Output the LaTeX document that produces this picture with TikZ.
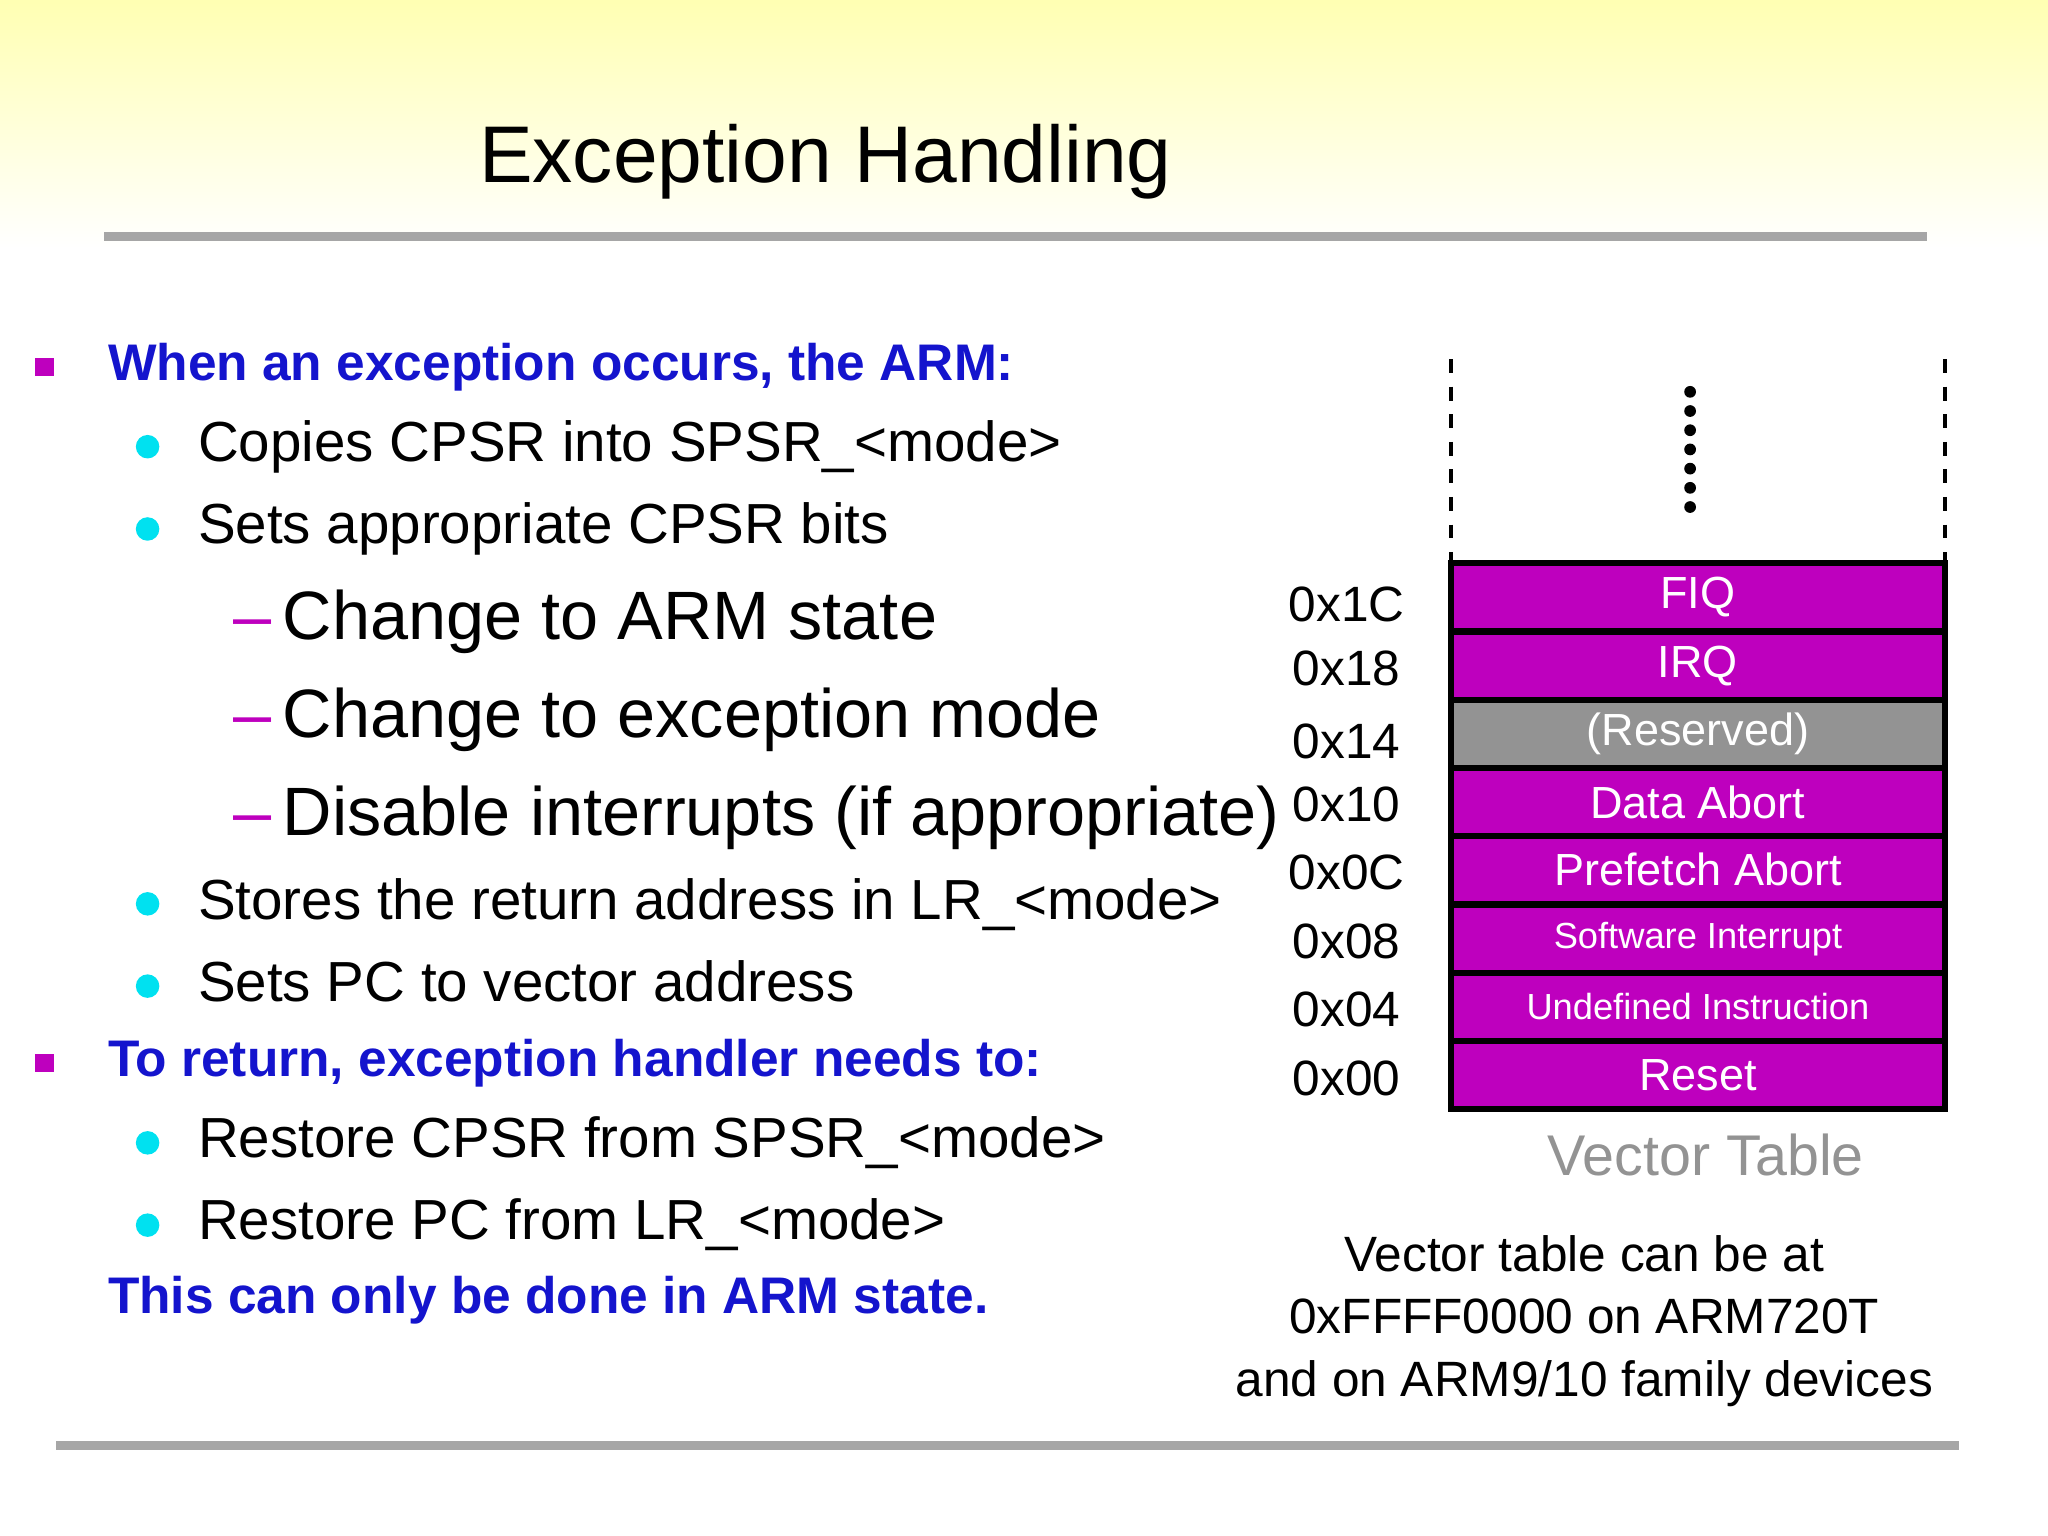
\documentclass[tikz,border=0pt]{standalone}
\usepackage{fontspec}
\setmainfont{Liberation Sans}
\definecolor{vmag}{RGB}{190,0,190}
\definecolor{bcyan}{RGB}{0,225,240}
\definecolor{hblue}{RGB}{20,20,205}
\begin{document}
\begin{tikzpicture}[x=0.01cm,y=-0.01cm,
  hd/.style={anchor=base west,font=\fontsize{11.2}{13}\selectfont\bfseries,text=hblue,inner sep=0},
  it/.style={anchor=base west,font=\fontsize{12.3}{14}\selectfont,inner sep=0},
  sub/.style={anchor=base west,font=\fontsize{14.9}{17}\selectfont,inner sep=0},
  hx/.style={anchor=base,font=\fontsize{10.8}{13}\selectfont,inner sep=0},
  vrow/.style={draw=black,line width=1.2pt,fill=vmag,text=white,minimum width=378*0.01cm,minimum height=52*0.01cm,inner sep=0,font=\fontsize{9.8}{11}\selectfont},
  sq/.style={fill=vmag,minimum size=14*0.01cm,inner sep=0},
  dot/.style={circle,fill=bcyan,minimum size=18*0.01cm,inner sep=0},
  rule/.style={line width=2pt,draw=gray!70}]
\useasboundingbox (0,0) rectangle (1568,1176);
\fill[top color=yellow!30,bottom color=white] (0,0) rectangle (1568,190);
\node[anchor=base,font=\fontsize{17.5}{20}\selectfont,inner sep=0] (title) at (632,140) {Exception Handling};
\draw[rule] (80,181) -- (1475,181);
\draw[rule] (43,1107) -- (1500,1107);
% left text
\node[sq] (s1) at (34,281) {};
\node[hd] (h1) at (82,291) {When an exception occurs, the ARM:};
\node[dot] (d1) at (113,342) {}; \node[it] (t1) at (151,353) {Copies CPSR into SPSR\_<mode>};
\node[dot] (d2) at (113,405) {}; \node[it] (t2) at (151,416) {Sets appropriate CPSR bits};
\node[sub] (u1) at (178,490) {\textcolor{vmag}{--}\,Change to ARM state};
\node[sub] (u2) at (178,565) {\textcolor{vmag}{--}\,Change to exception mode};
\node[sub] (u3) at (178,640) {\textcolor{vmag}{--}\,Disable interrupts (if appropriate)};
\node[dot] (d3) at (113,692) {}; \node[it] (t3) at (151,704) {Stores the return address in LR\_<mode>};
\node[dot] (d4) at (113,755) {}; \node[it] (t4) at (151,767) {Sets PC to vector address};
\node[sq] (s2) at (34,814) {};
\node[hd] (h2) at (82,824) {To return, exception handler needs to:};
\node[dot] (d5) at (113,875) {}; \node[it] (t5) at (151,886) {Restore CPSR from SPSR\_<mode>};
\node[dot] (d6) at (113,938) {}; \node[it] (t6) at (151,949) {Restore PC from LR\_<mode>};
\node[hd] (h3) at (82,1006) {This can only be done in ARM state.};
% vector table
\draw[dashed,thick] (1111,275) -- (1111,431);
\draw[dashed,thick] (1489,275) -- (1489,431);
\foreach \i in {0,...,6} \fill (1294,300+\i*14.7) circle (4.5);
\node[vrow] (r7) at (1300,457) {FIQ};
\node[vrow] (r6) at (1300,510) {IRQ};
\node[vrow,fill=gray!85] (r5) at (1300,562) {(Reserved)};
\node[vrow] (r4) at (1300,614) {Data Abort};
\node[vrow] (r3) at (1300,666) {Prefetch Abort};
\node[vrow,font=\fontsize{7.9}{9}\selectfont] (r2) at (1300,719) {Software Interrupt};
\node[vrow,font=\fontsize{7.9}{9}\selectfont] (r1) at (1300,771) {Undefined Instruction};
\node[vrow] (r0) at (1300,823) {Reset};
\node[hx] (a7) at (1031,476) {0x1C};
\node[hx] (a6) at (1031,525) {0x18};
\node[hx] (a5) at (1031,581) {0x14};
\node[hx] (a4) at (1031,629) {0x10};
\node[hx] (a3) at (1031,681) {0x0C};
\node[hx] (a2) at (1031,734) {0x08};
\node[hx] (a1) at (1031,786) {0x04};
\node[hx] (a0) at (1031,839) {0x00};
\node[anchor=base,font=\fontsize{12.5}{14}\selectfont,text=gray!85,inner sep=0] (vt) at (1306,900) {Vector Table};
\node[anchor=north,font=\fontsize{10.8}{13.6}\selectfont,align=center,inner sep=0] (note) at (1213,945) {Vector table can be at\\0xFFFF0000 on ARM720T\\and on ARM9/10 family devices};
\end{tikzpicture}
\end{document}
